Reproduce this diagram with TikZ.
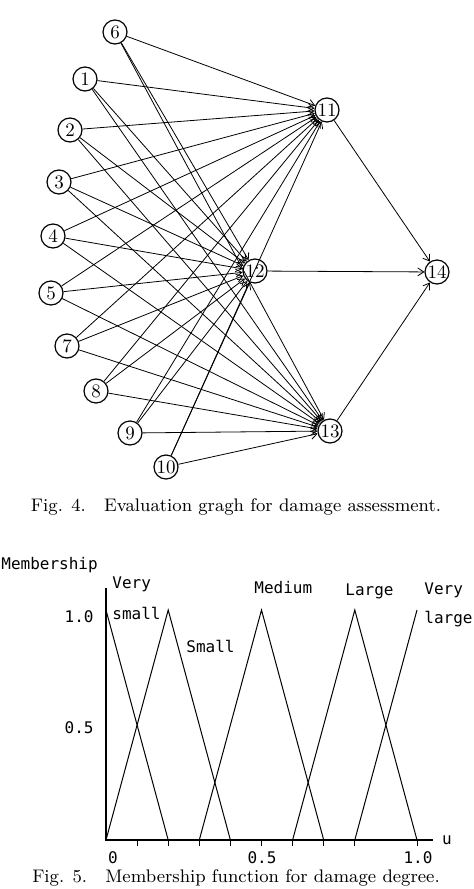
\documentclass[tikz,border=0pt]{standalone}
\usepackage{fontspec}
\newfontfamily\chartfont{DejaVu Sans Mono}
\usetikzlibrary{arrows.meta}
\tikzset{
    vertex/.style={circle, draw, line width=0.6pt, minimum size=12pt, inner sep=0pt, font=\fontsize{9.5}{9.5}\selectfont},
    edge/.style={-{Straight Barb[length=3pt, width=4pt]}, line width=0.4pt},
    caption/.style={anchor=base, font=\fontsize{9.1}{11}\selectfont},
    curve/.style={line width=0.5pt},
    axisline/.style={line width=0.6pt},
    chartlabel/.style={inner sep=0pt, font=\chartfont\fontsize{8}{8}\selectfont}
}

\begin{document}
\begin{tikzpicture}[x=0.5pt, y=-0.5pt]
    \useasboundingbox (0,0) rectangle (474,889);

    % Fig. 4: evaluation graph
    \node[vertex] (n6) at (115,32) {6};
    \node[vertex] (n1) at (85,79) {1};
    \node[vertex] (n2) at (70,130) {2};
    \node[vertex] (n3) at (59,182) {3};
    \node[vertex] (n4) at (53,236) {4};
    \node[vertex] (n5) at (51,293) {5};
    \node[vertex] (n7) at (67,346) {7};
    \node[vertex] (n8) at (96,391) {8};
    \node[vertex] (n9) at (130,433) {9};
    \node[vertex] (n10) at (166,467) {10};

    \node[vertex] (n11) at (327,110) {11};
    \node[vertex] (n12) at (255,271) {12};
    \node[vertex] (n13) at (330,431) {13};
    \node[vertex] (n14) at (437,272) {14};

    % every input goes to every intermediate node
    \foreach \s in {1,...,10}{
        \foreach \t in {11,12,13}{
            \draw[edge] (n\s) -- (n\t);
        }
    }
    \foreach \s in {11,12,13}
        \draw[edge] (n\s) -- (n14);

    \node[caption] (cap4) at (236,511) {Fig. 4.\quad Evaluation gragh for damage assessment.};

    % Fig. 5: membership functions
    \coordinate (origin) at (106,840);
    \coordinate (xend) at (433,840);
    \coordinate (yend) at (106,588);
    \draw[axisline] (yend) -- (origin) -- (xend);

    \begin{scope}[shift={(106,840)}, x=155.5pt, y=115pt]
        % ticks
        \foreach \u in {0.1,0.2,0.3,0.4,0.5,0.6,0.7,0.8,1.0}
            \draw[curve] (\u,0) -- (\u,-0.026);
        % triangles
        \draw[curve] (0,1) -- (0.2,0);
        \draw[curve] (0,0) -- (0.2,1) -- (0.4,0);
        \draw[curve] (0.3,0) -- (0.5,1) -- (0.7,0);
        \draw[curve] (0.6,0) -- (0.8,1) -- (1.0,0);
        \draw[curve] (0.8,0) -- (1.0,1);
    \end{scope}

    \node[chartlabel, anchor=west] (ylab) at (1,565) {Membership};
    \node[chartlabel, anchor=west] (vs1) at (112,584) {Very};
    \node[chartlabel, anchor=west] (vs2) at (112,613) {small};
    \node[chartlabel, anchor=west] (sm) at (186,646) {Small};
    \node[chartlabel, anchor=west] (md) at (254,588) {Medium};
    \node[chartlabel, anchor=west] (lg) at (345,591) {Large};
    \node[chartlabel, anchor=west] (vl1) at (424,590) {Very};
    \node[chartlabel, anchor=west] (vl2) at (424,619) {large};
    \node[chartlabel, anchor=east] (y10) at (94,617) {1.0};
    \node[chartlabel, anchor=east] (y05) at (94,728) {0.5};
    \node[chartlabel] (x0) at (113,858) {0};
    \node[chartlabel] (x05) at (262,858) {0.5};
    \node[chartlabel] (x10) at (418,858) {1.0};
    \node[chartlabel] (ulab) at (447,840) {u};

    \node[caption] (cap5) at (236,882) {Fig. 5.\quad Membership function for damage degree.};
\end{tikzpicture}
\end{document}
